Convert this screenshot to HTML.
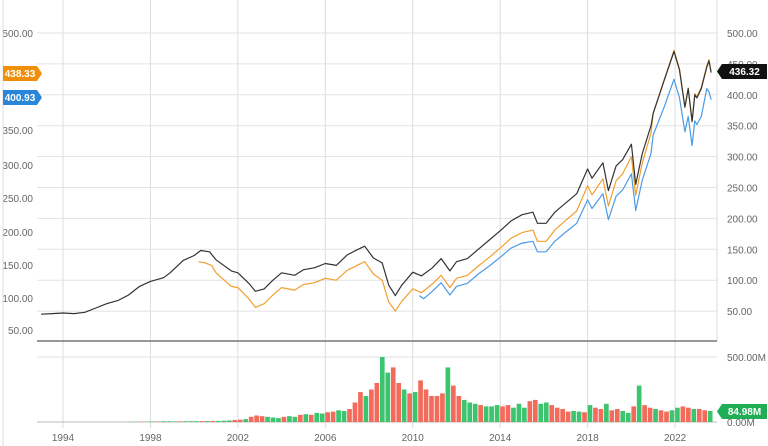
<!DOCTYPE html>
<html><head><meta charset="utf-8"><style>
body{margin:0;background:#fff;}
svg{display:block;font-family:"Liberation Sans",sans-serif;}
</style></head><body>
<svg id="c" width="768" height="446"></svg>
<script>
const priceTicks=[50,100,150,200,250,300,350,400,450,500];
const leftTickLabels=["500.00","350.00","300.00","250.00","200.00","150.00","100.00","50.00"];
const leftTickY=[33,130,165,198,232,265,298,330];
const yearTicks=[1994,1998,2002,2006,2010,2014,2018,2022];
const blackYears=[1993.0,1993.5,1994,1994.5,1995,1995.5,1996,1996.5,1997,1997.5,1998,1998.6,1998.9,1999.5,2000,2000.3,2000.7,2001,2001.7,2002,2002.5,2002.8,2003.2,2003.6,2004,2004.6,2005,2005.5,2006,2006.5,2007,2007.5,2007.8,2008.2,2008.6,2008.9,2009.2,2009.5,2010,2010.4,2010.9,2011.3,2011.7,2012,2012.5,2013,2013.5,2014,2014.5,2015,2015.5,2015.7,2016.1,2016.5,2017,2017.5,2018,2018.2,2018.7,2018.95,2019.3,2019.6,2020,2020.2,2020.5,2020.9,2021.0,2021.5,2021.95,2022.2,2022.45,2022.6,2022.78,2022.9,2023.0,2023.2,2023.45,2023.55,2023.65];
const blackValues=[45,46,47,46,48,55,62,67,76,90,98,104,112,132,140,148,146,133,115,112,95,82,86,100,112,108,117,120,127,124,141,150,155,136,128,92,75,92,113,107,120,135,115,130,135,150,165,180,196,206,210,192,192,210,225,240,280,265,290,245,285,295,320,255,305,350,370,423,470,440,380,410,357,400,395,410,445,455,436];
const orangeYears=[2000.2,2000.5,2000.8,2001,2001.7,2002,2002.5,2002.8,2003.2,2003.6,2004,2004.6,2005,2005.5,2006,2006.5,2007,2007.5,2007.8,2008.2,2008.6,2008.9,2009.2,2009.5,2010,2010.4,2010.9,2011.3,2011.7,2012,2012.5,2013,2013.5,2014,2014.5,2015,2015.5,2015.7,2016.1,2016.5,2017,2017.5,2018,2018.2,2018.7,2018.95,2019.3,2019.6,2020,2020.2,2020.5,2020.9,2021.0,2021.5,2021.95,2022.2,2022.45,2022.6,2022.78,2022.9,2023.0,2023.2,2023.45,2023.55,2023.65];
const orangeValues=[130,128,124,112,90,88,70,56,62,76,88,84,93,96,103,100,116,125,130,110,100,65,50,66,86,80,94,108,88,103,108,123,137,152,168,177,181,163,163,181,197,212,253,238,264,220,261,272,300,237,290,338,370,424,472,442,380,411,356,402,397,412,447,457,438];
const blueYears=[2010.3,2010.5,2010.9,2011.3,2011.7,2012,2012.5,2013,2013.5,2014,2014.5,2015,2015.5,2015.7,2016.1,2016.5,2017,2017.5,2018,2018.2,2018.7,2018.95,2019.3,2019.6,2020,2020.2,2020.5,2020.9,2021.0,2021.5,2021.95,2022.2,2022.45,2022.6,2022.78,2022.9,2023.0,2023.2,2023.45,2023.55,2023.65];
const blueValues=[75,70,82,96,76,90,95,110,123,137,152,160,163,146,146,163,178,192,230,216,240,198,236,246,272,213,262,305,335,380,425,395,340,365,318,358,352,365,410,405,392];
const volStart=1997.0;
const volumes=[2,2,3,3,4,4,6,6,5,5,6,6,6,7,7,8,8,10,12,15,18,22,40,50,45,40,35,30,40,45,40,55,60,55,70,65,75,80,90,85,100,150,230,200,250,300,500,380,420,300,250,220,230,320,250,200,200,220,420,280,200,170,150,140,130,120,120,130,120,130,110,140,110,160,170,140,150,130,110,100,80,85,80,75,130,110,100,140,90,100,85,70,120,280,130,110,100,90,80,90,110,120,110,100,100,90,85];
const volDirs="uuduuduuuduuududuuudduddduuuduududuudduudddudduuddududddddudduuuduuudduuudduudddduududdudduududdudduuddudduu";

const NS="http://www.w3.org/2000/svg";
const svg=document.getElementById('c');
function el(tag,attrs,parent){const e=document.createElementNS(NS,tag);for(const k in attrs)e.setAttribute(k,attrs[k]);(parent||svg).appendChild(e);return e;}
const X=y=>63+(y-1994)*21.86;
const Y=v=>33+(500-v)*0.618;
const VY=v=>422-v*0.13;

// vertical grid
yearTicks.forEach(yr=>{
 const l=el('line',{x1:X(yr),x2:X(yr),y1:0,y2:428,stroke:'#dcdcdc','stroke-width':1});
 
 
 const t=el('text',{x:X(yr),y:441,'text-anchor':'middle','font-size':10,fill:'#666'});
 t.textContent=yr;
 
 
});
// horizontal grid + right labels
priceTicks.forEach(v=>{
 const l=el('line',{x1:37,x2:717,y1:Y(v),y2:Y(v),stroke:'#e2e2e2','stroke-width':1});
 
 
 const t=el('text',{x:727,y:Y(v)+4,'font-size':10,fill:'#666'});
 t.textContent=v.toFixed(2);
 
 
});
leftTickLabels.forEach((s,i)=>{
 const t=el('text',{x:33,y:leftTickY[i]+4,'text-anchor':'end','font-size':10,fill:'#666'});
 t.textContent=s;
 
 
});
[[3,0,3,446],[717,0,717,341]].forEach(a=>{const l=el('line',{x1:a[0],y1:a[1],x2:a[2],y2:a[3],stroke:'#ddd'});});
// volume grid
[[0,'0.00M'],[500,'500.00M']].forEach(p=>{
 const l=el('line',{x1:37,x2:717,y1:VY(p[0]),y2:VY(p[0]),stroke:p[0]?'#e2e2e2':'#bbb'});
 
 
 const t=el('text',{x:727,y:VY(p[0])+4,'font-size':10,fill:'#666'});
 t.textContent=p[1];
 
 
});
const sep=el('line',{x1:37,x2:717,y1:341,y2:341,stroke:'#777','stroke-width':1.5});


// volume bars
const bw=21.86/4;
volumes.forEach((v,i)=>{
 const yr=volStart+i*0.25;
 const r=el('rect',{x:X(yr),y:VY(v),width:bw-0.8,height:422-VY(v),fill:volDirs[i]==='d'?'#f26b5b':'#3cc46f'});
 
 
});
function line(ys,vs,color,name){
 const d=ys.map((y,i)=>(i?'L':'M')+X(y).toFixed(1)+','+Y(vs[i]).toFixed(1)).join('');
 const p=el('path',{d:d,fill:'none',stroke:color,'stroke-width':1.2,'stroke-linejoin':'round'});
 
 
}
line(blueYears,blueValues,'#4a9be6','blue-series-line');
line(orangeYears,orangeValues,'#f0a030','orange-series-line');
line(blackYears,blackValues,'#333','black-series-line');
// tags
function tag(x,y,w,text,color,dir,name){
 const h=15;let pts;
 if(dir==='r')pts=`${x},${y} ${x+w},${y} ${x+w+5},${y+h/2} ${x+w},${y+h} ${x},${y+h}`;
 else pts=`${x+5},${y} ${x+w+5},${y} ${x+w+5},${y+h} ${x+5},${y+h} ${x},${y+h/2}`;
 const g=el('g',{});
 
 
 el('polygon',{points:pts,fill:color},g);
 const t=el('text',{x:dir==='r'?x+w/2:x+5+w/2,y:y+11,'text-anchor':'middle','font-size':10,'font-weight':'bold',fill:'#fff'},g);
 t.textContent=text;
}
tag(3,66,34,'438.33','#f0900a','r','orange-last-value-tag');
tag(3,90,34,'400.93','#2a86d8','r','blue-last-value-tag');
tag(717,64,45,'436.32','#111','l','black-last-value-tag');
tag(717,404,45,'84.98M','#1fae55','l','volume-last-value-tag');
</script>
</body></html>
